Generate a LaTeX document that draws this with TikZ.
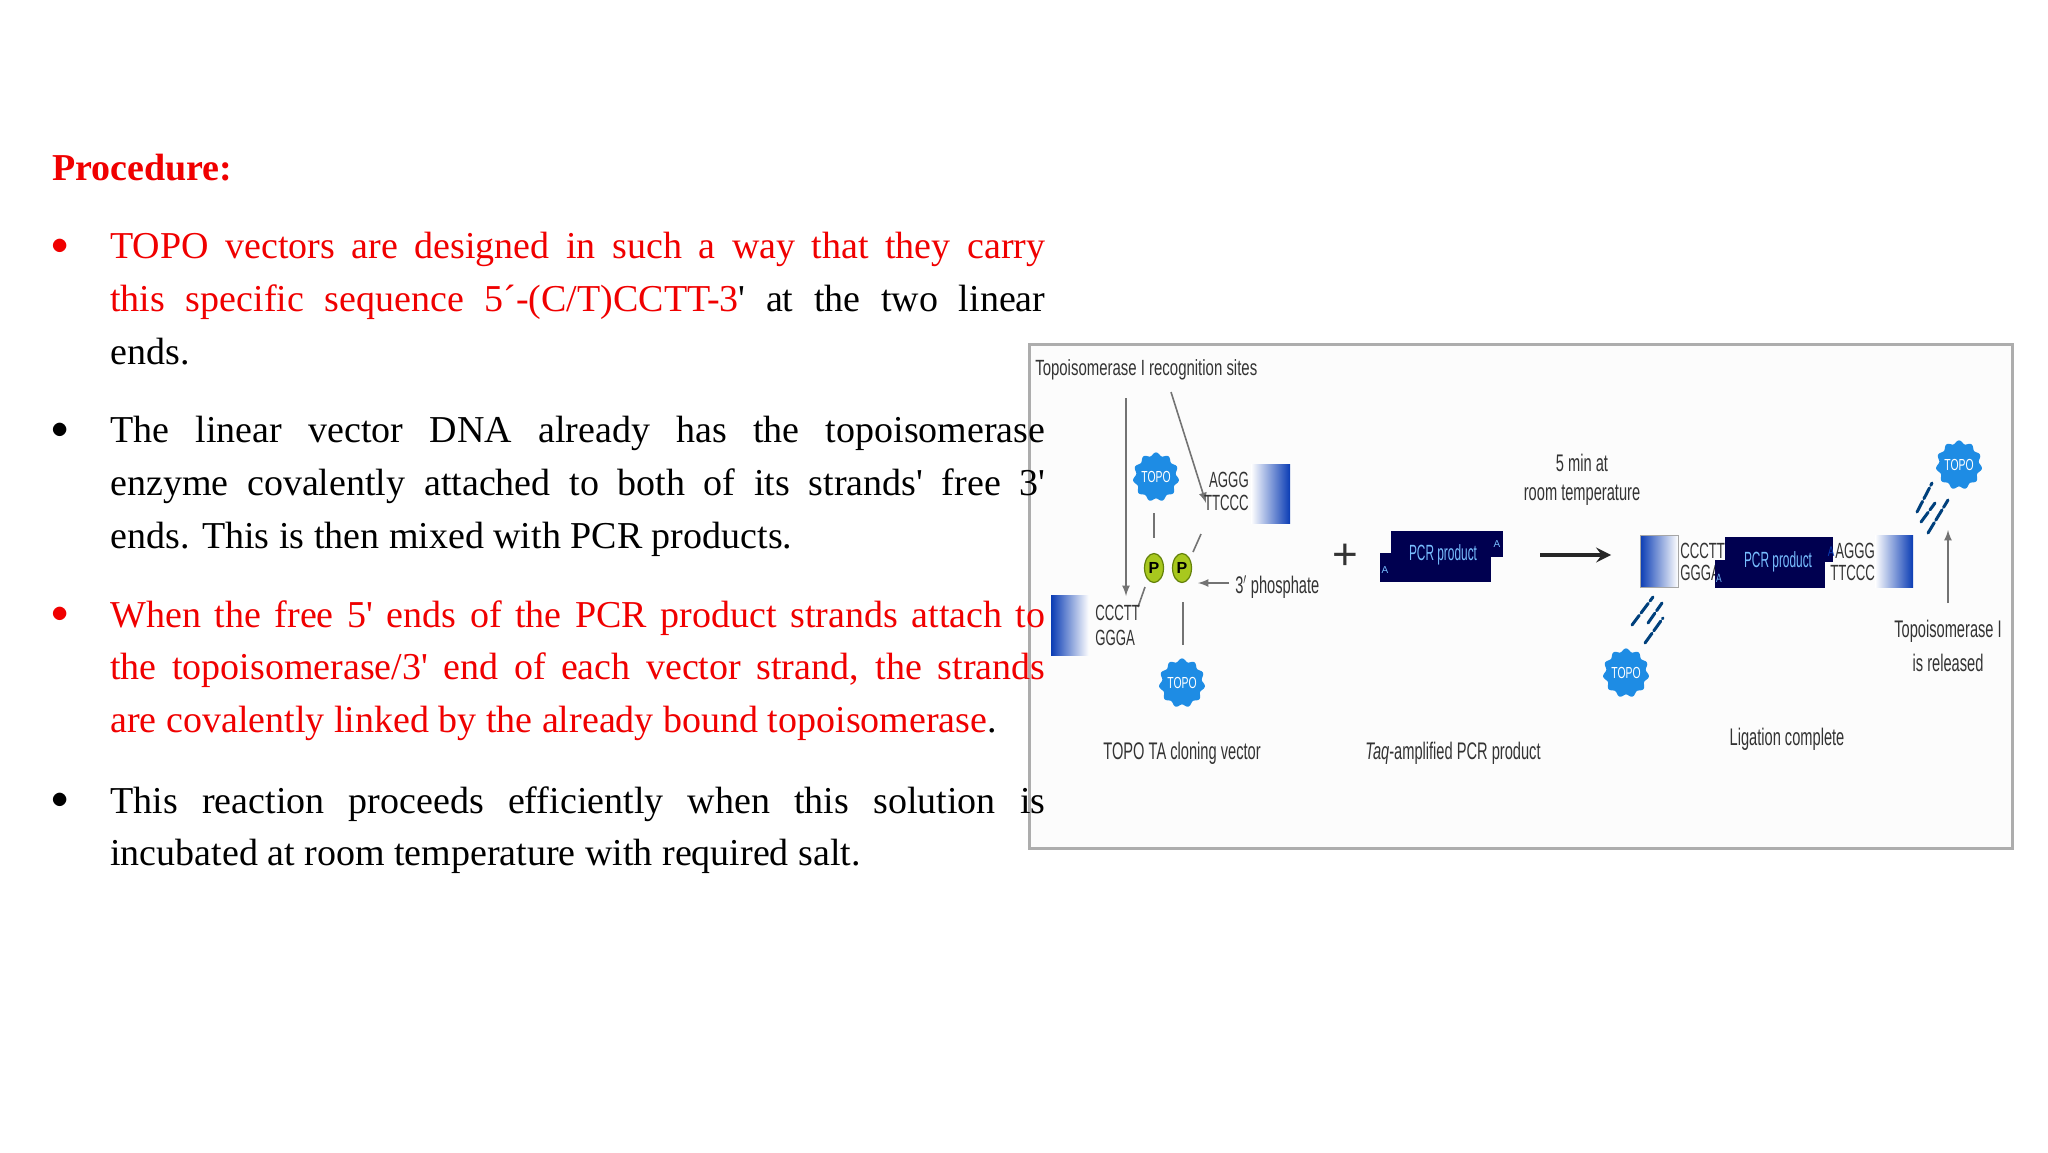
\documentclass[tikz,border=0pt]{standalone}
\usepackage{fontspec}
\setmainfont{Liberation Serif}
\setsansfont{Liberation Sans}
\usetikzlibrary{shapes.geometric}
\begin{document}
\definecolor{topoblue}{RGB}{30,140,228}
\definecolor{navy}{RGB}{0,0,80}
\definecolor{blk}{RGB}{10,60,180}
\definecolor{pgreen}{RGB}{168,200,30}
\definecolor{pedge}{RGB}{100,130,10}
\definecolor{pcrtxt}{RGB}{120,190,255}
\definecolor{txtred}{RGB}{240,0,0}
\newcommand{\q}{\textquotesingle}
\begin{tikzpicture}[x=0.5pt,y=-0.5pt,
  dtext/.style={font=\fontsize{11}{12}\selectfont\sffamily,text=black!80,xscale=0.68,inner sep=0},
  lbl/.style={font=\fontsize{12}{13}\selectfont\sffamily,text=black!80,xscale=0.61,inner sep=0},
  seq/.style={font=\fontsize{11}{12}\selectfont\sffamily,text=black!80,xscale=0.6,inner sep=0},
  pcrt/.style={font=\fontsize{11}{12}\selectfont\sffamily,text=pcrtxt,xscale=0.54,inner sep=0},
  para/.style={anchor=north west,text width=467.5pt,align=justify,inner sep=0,
    font=\fontsize{19}{26.4}\selectfont},
  bul/.style={font=\fontsize{18}{26.4}\selectfont,inner sep=0},
  ln/.style={draw=black!55,line width=0.8pt},
  pnode/.style={draw=pedge,fill=pgreen,ellipse,minimum width=9.5pt,minimum height=14.5pt,inner sep=0,line width=0.6pt,font=\fontsize{8}{9}\selectfont\sffamily\bfseries},
  motion/.style={line width=1.5pt,draw=navy!75!cyan,dash pattern=on 6pt off 1.5pt,line cap=round},
  topo/.pic={\fill[topoblue] plot[domain=0:357,samples=120] ({(21.5+1.6*sin(11*\x))*cos(\x)},{(23+1.6*sin(11*\x))*sin(\x)}) -- cycle;
             \node[font=\fontsize{8}{9}\selectfont\sffamily,text=white,xscale=0.65,inner sep=0] (-l) {TOPO};}
]
\useasboundingbox (0,0) rectangle (2048,1152);
\fill[white] (0,0) rectangle (2048,1152);
% diagram frame
\draw[draw=black!32,line width=1.5pt,fill=black!1] (1029,344) rectangle (2012,848);

% left part
\node[dtext,anchor=west] (title) at (1035,370) {Topoisomerase I recognition sites};
\coordinate (v1) at (1126,398); \coordinate (v2) at (1126,596);
\draw[ln,-latex] (v1) -- (v2);
\coordinate (d1) at (1171,392); \coordinate (d2) at (1206,503);
\draw[ln,-latex] (d1) -- (d2);
\pic (t1) at (1156,477) {topo};
\pic (t2) at (1182,683) {topo};
\node[pnode] (p1) at (1154,568) {P};
\node[pnode] (p2) at (1182,568) {P};
\draw[ln] (1154,513) -- (1154,538);
\draw[ln] (1145,587) -- (1138,607);
\draw[ln] (1193,552) -- (1201,534);
\draw[ln] (1183,602) -- (1183,645);
\node[seq,anchor=east] (aggg) at (1249,480) {AGGG};
\node[seq,anchor=east] (ttccc) at (1249,503) {TTCCC};
\shade[left color=white,right color=blk] (1251,464) rectangle (1290,523);
\shade[left color=blk,right color=white] (1051,595) rectangle (1089,655);
\node[seq,anchor=west] (ccctt) at (1095,613) {CCCTT};
\node[seq,anchor=west] (ggga) at (1095,638) {GGGA};
\coordinate (ph1) at (1229,583); \coordinate (ph2) at (1198,583);
\draw[ln,-latex] (ph1) -- (ph2);
\node[lbl,anchor=west] (phos) at (1235,587) {3$'$ phosphate};
\node[font=\fontsize{22}{22}\selectfont\sffamily,text=black!80,inner sep=0] (plus) at (1345,557) {+};
\fill[navy] (1391,531) rectangle (1503,557);
\fill[navy] (1380,553) rectangle (1491,582);
\node[pcrt] (pcr1) at (1443,555) {PCR product};
\node[font=\fontsize{5}{5}\selectfont\sffamily,text=pcrtxt,inner sep=0] (a1) at (1497,544) {A};
\node[font=\fontsize{5}{5}\selectfont\sffamily,text=pcrtxt,inner sep=0] (a2) at (1385,570) {A};
\node[lbl] (lab1) at (1182,753) {TOPO TA cloning vector};
\node[lbl] (lab2) at (1453,753) {\textit{Taq}-amplified PCR product};

% right part
\node[lbl] (min) at (1582,463) {5 min at};
\node[lbl] (room) at (1582,495) {room temperature};
\coordinate (r1) at (1540,555); \coordinate (r2) at (1611,555);
\draw[line width=2.2pt,-stealth,black!85] (r1) -- (r2);
\shade[left color=blk,right color=white,draw=black!35] (1640,535) rectangle (1678,587);
\node[seq,anchor=west] (ccctt2) at (1680,551) {CCCTT};
\node[seq,anchor=west] (ggga2) at (1680,573) {GGGA};
\fill[navy] (1725,537) rectangle (1833,562);
\fill[navy] (1715,560) rectangle (1825,588);
\node[pcrt] (pcr2) at (1778,562) {PCR product};
\node[font=\fontsize{6}{6}\selectfont\sffamily,text=pcrtxt,inner sep=0,xscale=0.7] (a3) at (1719,578) {A};
\node[font=\fontsize{7}{7}\selectfont\sffamily,text=blk,inner sep=0,xscale=0.7] (a4) at (1831,552) {A};
\node[seq,anchor=west] (aggg2) at (1835,551) {AGGG};
\node[seq,anchor=west] (ttccc2) at (1830,573) {TTCCC};
\shade[left color=white,right color=blk] (1875,535) rectangle (1913,587);
\pic (t3) at (1626,673) {topo};
\pic (t4) at (1959,465) {topo};
\draw[motion] (1632,625) -- (1653,597);
\draw[motion] (1648,623) -- (1662,603);
\draw[motion] (1645,643) -- (1663,618);
\draw[motion] (1917,512) -- (1932,483);
\draw[motion] (1921,522) -- (1935,503);
\draw[motion] (1928,533) -- (1948,500);
\coordinate (u1) at (1948,603); \coordinate (u2) at (1948,530);
\draw[ln,-latex] (u1) -- (u2);
\node[lbl] (rel1) at (1948,631) {Topoisomerase I};
\node[lbl] (rel2) at (1948,663) {is released};
\node[lbl] (lig) at (1787,739) {Ligation complete};

% text
\node[anchor=west,text=txtred,font=\fontsize{19}{19}\selectfont\bfseries,inner sep=0] (proc) at (52,168) {Procedure:};
\node[bul,text=txtred] (b1) at (60,247) {$\bullet$};
\node[bul] (b2) at (60,431) {$\bullet$};
\node[bul,text=txtred] (b3) at (60,615) {$\bullet$};
\node[bul] (b4) at (60,801) {$\bullet$};
\node[para] (t1p) at (110,232) {\textcolor{txtred}{TOPO vectors are designed in such a way that they carry\linebreak this specific sequence 5´-(C/T)CCTT-3}\q{} at the two linear\linebreak ends.};
\node[para] (t2p) at (110,416) {The linear vector DNA already has the topoisomerase\linebreak enzyme covalently attached to both of its strands\q{} free 3\q\linebreak ends. This is then mixed with PCR products.};
\node[para] (t3p) at (110,600) {\textcolor{txtred}{When the free 5\q{} ends of the PCR product strands attach to\linebreak the topoisomerase/3\q{} end of each vector strand, the strands\linebreak are covalently linked by the already bound topoisomerase}.};
\node[para] (t4p) at (110,786) {This reaction proceeds efficiently when this solution is\linebreak incubated at room temperature with required salt.};
\end{tikzpicture}
\end{document}
